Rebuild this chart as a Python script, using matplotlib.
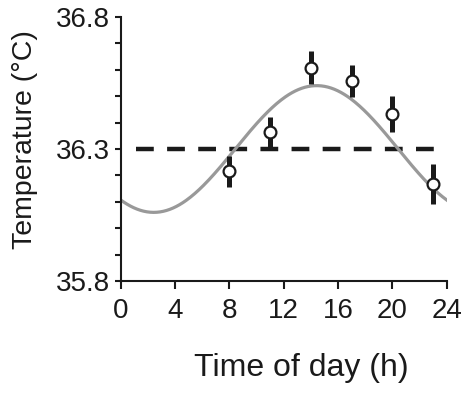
import numpy as np
import matplotlib.pyplot as plt
from matplotlib.ticker import MultipleLocator

plt.rcParams['font.family'] = ['Liberation Sans', 'DejaVu Sans']

# measured group means (time of day, temperature) with error bar ends
hours = [8, 11, 14, 17, 20, 23]
temp = [36.217, 36.363, 36.606, 36.559, 36.434, 36.167]
err_hi = [36.273, 36.422, 36.672, 36.618, 36.502, 36.243]
err_lo = [36.156, 36.303, 36.545, 36.498, 36.363, 36.091]

# cosinor fit parameters
mesor = 36.30
amplitude = 0.24
acrophase = 14.43
period = 24.0

ref_level = 36.3

yerr = [np.array(temp) - np.array(err_lo), np.array(err_hi) - np.array(temp)]

fig = plt.figure(figsize=(4.74, 3.99), dpi=100)
ax = fig.add_axes([0.2547, 0.2957, 0.6877, 0.6617])

t = np.linspace(0, 24, 300)
fit = mesor + amplitude * np.cos(2 * np.pi * (t - acrophase) / period)

ax.plot([1.1, 24], [ref_level, ref_level], color='#1a1a1a', lw=3.2,
        dashes=(4.0, 3.0), zorder=1)
ax.plot(t, fit, color='#999999', lw=2.3, zorder=2)
ax.errorbar(hours, temp, yerr=yerr, fmt='none', ecolor='#1a1a1a',
            elinewidth=3.6, capsize=0, zorder=3)
ax.plot(hours, temp, 'o', ms=8.5, mfc='white', mec='#1a1a1a', mew=1.6, zorder=4)

ax.set_xlim(0, 24)
ax.set_ylim(35.8, 36.8)
ax.set_xticks([0, 4, 8, 12, 16, 20, 24])
ax.set_yticks([35.8, 36.3, 36.8])
ax.yaxis.set_minor_locator(MultipleLocator(0.1))

for s in ['top', 'right']:
    ax.spines[s].set_visible(False)
for s in ['left', 'bottom']:
    ax.spines[s].set_linewidth(1.5)
    ax.spines[s].set_color('#1a1a1a')

ax.tick_params(axis='y', which='both', direction='out', length=4, width=1.5,
               pad=4, labelsize=20, colors='#1a1a1a')
ax.tick_params(axis='x', direction='out', length=5.5, width=1.5, pad=7,
               labelsize=20, colors='#1a1a1a')

ax.set_ylabel('Temperature (°C)', fontsize=20.5, color='#1a1a1a')
ax.yaxis.set_label_coords(-0.295, 0.535)
ax.set_xlabel('Time of day (h)', fontsize=23, color='#1a1a1a')
ax.xaxis.set_label_coords(0.5525, -0.33)
ax.xaxis.label.set_va('center')
ax.yaxis.label.set_va('center')

fig.savefig('out.png', dpi=100)
